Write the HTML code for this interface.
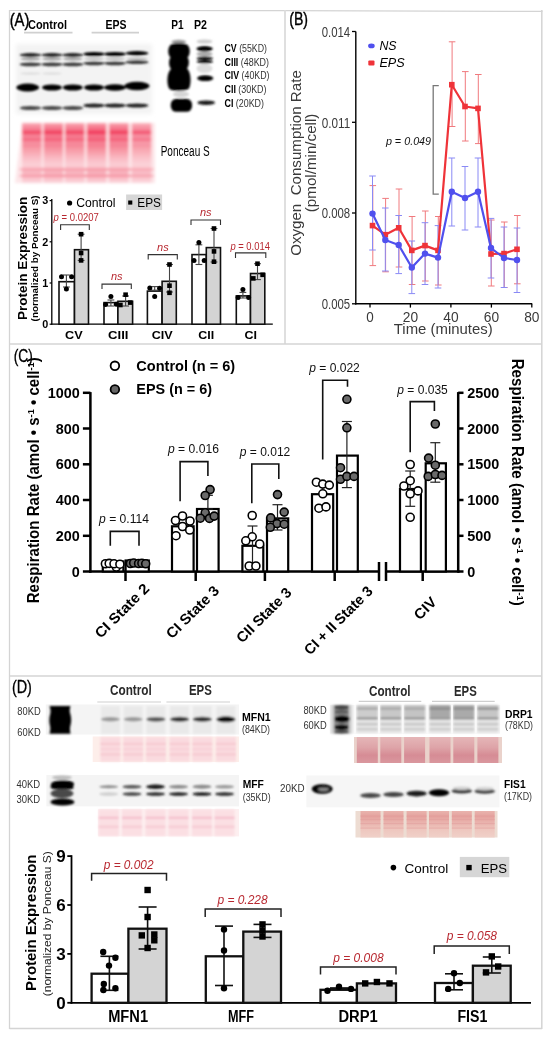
<!DOCTYPE html>
<html><head><meta charset="utf-8"><style>
html,body{margin:0;padding:0;background:#fff;}
body{width:550px;height:1038px;overflow:hidden;}
svg{display:block;font-family:"Liberation Sans", sans-serif;filter:blur(0.4px);}
</style></head><body>
<svg width="550" height="1038" viewBox="0 0 550 1038">
<defs>
<filter id="b05" x="-20%" y="-50%" width="140%" height="200%"><feGaussianBlur stdDeviation="0.5"/></filter>
<filter id="b1" x="-20%" y="-50%" width="140%" height="200%"><feGaussianBlur stdDeviation="0.9"/></filter>
<filter id="b15" x="-20%" y="-50%" width="140%" height="200%"><feGaussianBlur stdDeviation="1.4"/></filter>
<filter id="b2" x="-20%" y="-50%" width="140%" height="200%"><feGaussianBlur stdDeviation="2"/></filter>
</defs>
<rect width="550" height="1038" fill="#fff"/>

<polyline points="9.5,10.5 285,10.6 542.5,11.4" fill="none" stroke="#d4d4d4" stroke-width="1.2"/>
<line x1="9.5" y1="10.0" x2="9.5" y2="1029.0" stroke="#d4d4d4" stroke-width="1.3"/>
<line x1="285.0" y1="10.0" x2="285.0" y2="344.0" stroke="#dcdcdc" stroke-width="1.8"/>
<line x1="541.8" y1="10.0" x2="541.8" y2="1029.0" stroke="#d4d4d4" stroke-width="1.5"/>
<line x1="9.5" y1="344.0" x2="542.0" y2="344.0" stroke="#d4d4d4" stroke-width="1.3"/>
<line x1="9.5" y1="676.0" x2="542.0" y2="676.0" stroke="#d4d4d4" stroke-width="1.3"/>
<line x1="9.5" y1="1028.5" x2="542.0" y2="1028.5" stroke="#d4d4d4" stroke-width="1.3"/>
<text x="9.7" y="25.8" font-size="18.3" textLength="19.7" lengthAdjust="spacingAndGlyphs" stroke="#000" stroke-width="0.4">(A)</text>
<text x="28.0" y="28.5" font-size="13.3" font-weight="bold" textLength="39.0" lengthAdjust="spacingAndGlyphs">Control</text>
<line x1="24.0" y1="32.6" x2="72.5" y2="32.6" stroke="#d0d0d0" stroke-width="1.7"/>
<text x="105.6" y="28.5" font-size="13.3" font-weight="bold" textLength="21.0" lengthAdjust="spacingAndGlyphs">EPS</text>
<line x1="91.6" y1="32.6" x2="139.0" y2="32.6" stroke="#d0d0d0" stroke-width="1.7"/>
<text x="171.3" y="29.0" font-size="13" font-weight="bold" textLength="12.3" lengthAdjust="spacingAndGlyphs">P1</text>
<text x="194.0" y="29.0" font-size="13" font-weight="bold" textLength="13.0" lengthAdjust="spacingAndGlyphs">P2</text>
<g filter="url(#b2)">
<rect x="16.0" y="44.0" width="136.0" height="70.0" fill="#f3f3f3"/>
</g>
<g filter="url(#b1)">
<ellipse cx="30.5" cy="58.8" rx="10.0" ry="1.6" fill="#a0a0a0" opacity="1"/>
<ellipse cx="30.5" cy="55.0" rx="10.8" ry="1.9" fill="#222" opacity="1"/>
<ellipse cx="30.5" cy="64.4" rx="10.8" ry="1.9" fill="#3a3a3a" opacity="1"/>
<ellipse cx="30.5" cy="73.5" rx="10.0" ry="1.0" fill="#dadada" opacity="1"/>
<ellipse cx="27.7" cy="87.5" rx="11.5" ry="4.0" fill="#000" opacity="1"/>
<ellipse cx="30.5" cy="108.0" rx="10.8" ry="2.1" fill="#4a4a4a" opacity="1"/>
<ellipse cx="52.0" cy="58.8" rx="9.8" ry="1.6" fill="#a0a0a0" opacity="1"/>
<ellipse cx="52.0" cy="55.0" rx="10.5" ry="1.9" fill="#222" opacity="1"/>
<ellipse cx="52.0" cy="64.4" rx="10.5" ry="1.9" fill="#3a3a3a" opacity="1"/>
<ellipse cx="52.0" cy="73.5" rx="9.8" ry="1.0" fill="#dadada" opacity="1"/>
<ellipse cx="52.0" cy="87.5" rx="10.0" ry="3.1" fill="#000" opacity="1"/>
<ellipse cx="52.0" cy="108.0" rx="10.5" ry="2.1" fill="#4a4a4a" opacity="1"/>
<ellipse cx="72.8" cy="58.8" rx="9.8" ry="1.6" fill="#a0a0a0" opacity="1"/>
<ellipse cx="72.8" cy="55.0" rx="10.5" ry="1.9" fill="#222" opacity="1"/>
<ellipse cx="72.8" cy="64.4" rx="10.5" ry="1.9" fill="#3a3a3a" opacity="1"/>
<ellipse cx="72.8" cy="87.5" rx="10.0" ry="3.1" fill="#000" opacity="1"/>
<ellipse cx="72.8" cy="108.0" rx="10.5" ry="2.1" fill="#4a4a4a" opacity="1"/>
<ellipse cx="94.0" cy="58.8" rx="10.0" ry="1.6" fill="#c4c4c4" opacity="1"/>
<ellipse cx="94.0" cy="54.1" rx="10.8" ry="2.2" fill="#000" opacity="1"/>
<ellipse cx="94.0" cy="63.3" rx="10.8" ry="1.9" fill="#383838" opacity="1"/>
<ellipse cx="94.0" cy="87.5" rx="10.0" ry="3.1" fill="#000" opacity="1"/>
<ellipse cx="94.0" cy="105.5" rx="10.8" ry="2.1" fill="#222" opacity="1"/>
<ellipse cx="115.0" cy="58.8" rx="10.2" ry="1.6" fill="#c4c4c4" opacity="1"/>
<ellipse cx="115.0" cy="54.1" rx="11.0" ry="2.2" fill="#000" opacity="1"/>
<ellipse cx="115.0" cy="63.3" rx="11.0" ry="1.9" fill="#383838" opacity="1"/>
<ellipse cx="115.0" cy="87.5" rx="11.0" ry="3.3" fill="#000" opacity="1"/>
<ellipse cx="115.0" cy="105.5" rx="11.0" ry="2.1" fill="#222" opacity="1"/>
<ellipse cx="137.0" cy="58.8" rx="10.8" ry="1.6" fill="#c4c4c4" opacity="1"/>
<ellipse cx="137.0" cy="53.2" rx="11.5" ry="2.2" fill="#000" opacity="1"/>
<ellipse cx="137.0" cy="62.2" rx="11.5" ry="1.9" fill="#383838" opacity="1"/>
<ellipse cx="137.0" cy="86.0" rx="12.5" ry="4.2" fill="#000" opacity="1"/>
<ellipse cx="137.0" cy="105.5" rx="11.5" ry="2.1" fill="#222" opacity="1"/>
</g>
<g filter="url(#b1)">
<ellipse cx="178.8" cy="41.8" rx="7.5" ry="2.0" fill="#999"/>
<path d="M170.5,45 C171,42.5 186,42.5 187.5,45 C190.5,48 190.5,54.5 187.5,57.5 C189.5,60 189.5,65 187,68.5 C191.5,72 191.5,86 188.5,89 C185,91.5 172,91.5 169.5,89 C166.5,85 166.5,73 171,69 C168.5,66 168.5,60 170.5,57.5 C167.5,54.5 167.5,48 170.5,45 Z" stroke="#000" stroke-width="0" fill="#000"/>
<ellipse cx="181.0" cy="94.2" rx="8.0" ry="3.0" fill="#d5d5d5"/>
<rect x="170.8" y="98.8" width="21.2" height="13.0" fill="#000" rx="5.5"/>
</g>
<g filter="url(#b1)">
<ellipse cx="204.5" cy="41.5" rx="8.0" ry="2.0" fill="#ccc"/>
<ellipse cx="204.5" cy="54.0" rx="8.0" ry="2.5" fill="#aaa"/>
<ellipse cx="204.5" cy="68.5" rx="8.0" ry="4.5" fill="#ddd"/>
<ellipse cx="204.6" cy="48.8" rx="8.2" ry="2.7" fill="#000" opacity="1"/>
<ellipse cx="204.8" cy="58.3" rx="8.2" ry="1.7" fill="#0a0a0a" opacity="1"/>
<ellipse cx="204.8" cy="61.7" rx="8.2" ry="1.7" fill="#111" opacity="1"/>
<ellipse cx="205.2" cy="78.2" rx="8.2" ry="2.9" fill="#000" opacity="1"/>
<ellipse cx="206.2" cy="102.7" rx="8.8" ry="2.3" fill="#151515" opacity="1"/>
</g>
<text x="224.5" y="52" font-size="10" textLength="42.5" lengthAdjust="spacingAndGlyphs"><tspan font-weight="bold">CV</tspan><tspan fill="#333"> (55KD)</tspan></text>
<text x="224.5" y="65.5" font-size="10" textLength="44.5" lengthAdjust="spacingAndGlyphs"><tspan font-weight="bold">CIII</tspan><tspan fill="#333"> (48KD)</tspan></text>
<text x="224.5" y="79" font-size="10" textLength="45" lengthAdjust="spacingAndGlyphs"><tspan font-weight="bold">CIV</tspan><tspan fill="#333"> (40KD)</tspan></text>
<text x="224.5" y="93" font-size="10" textLength="42" lengthAdjust="spacingAndGlyphs"><tspan font-weight="bold">CII</tspan><tspan fill="#333"> (30KD)</tspan></text>
<text x="224.5" y="107" font-size="10" textLength="39.5" lengthAdjust="spacingAndGlyphs"><tspan font-weight="bold">CI</tspan><tspan fill="#333"> (20KD)</tspan></text>
<defs><linearGradient id="pgA" x1="0" y1="0" x2="0" y2="1">
<stop offset="0" stop-color="#f9a0ac"/><stop offset="0.12" stop-color="#f4607a"/><stop offset="0.3" stop-color="#f57a8e"/>
<stop offset="0.45" stop-color="#f7929f"/><stop offset="0.58" stop-color="#f9b6c0"/><stop offset="0.7" stop-color="#fbcdd4"/>
<stop offset="0.8" stop-color="#f8adb9"/><stop offset="0.9" stop-color="#f9b8c2"/><stop offset="1" stop-color="#fbd2d9"/>
</linearGradient></defs>
<g filter="url(#b15)">
<path d="M22,123 L155,123 L155,183 L15,183 Z" stroke="#000" stroke-width="0" fill="#fde6e9"/>
<rect x="22.1" y="123.0" width="19.5" height="60.0" fill="url(#pgA)" opacity="0.85"/>
<rect x="22.1" y="131.2" width="19.5" height="2.6" fill="#f02a4e" opacity="0.72"/>
<rect x="22.1" y="138.6" width="19.5" height="2.2" fill="#f2405f" opacity="0.51"/>
<rect x="22.1" y="145.0" width="19.5" height="1.5" fill="#f45c78" opacity="0.30"/>
<rect x="19.6" y="168.3" width="24.5" height="2.2" fill="#f58a9a" opacity="0.59"/>
<rect x="19.6" y="174.8" width="24.5" height="2.2" fill="#f47e90" opacity="0.59"/>
<rect x="43.6" y="123.0" width="19.5" height="60.0" fill="url(#pgA)" opacity="0.95"/>
<rect x="43.6" y="131.2" width="19.5" height="2.6" fill="#f02a4e" opacity="0.81"/>
<rect x="43.6" y="138.6" width="19.5" height="2.2" fill="#f2405f" opacity="0.57"/>
<rect x="43.6" y="145.0" width="19.5" height="1.5" fill="#f45c78" opacity="0.33"/>
<rect x="41.1" y="168.3" width="24.5" height="2.2" fill="#f58a9a" opacity="0.66"/>
<rect x="41.1" y="174.8" width="24.5" height="2.2" fill="#f47e90" opacity="0.66"/>
<rect x="65.0" y="123.0" width="19.5" height="60.0" fill="url(#pgA)" opacity="0.9"/>
<rect x="65.0" y="131.2" width="19.5" height="2.6" fill="#f02a4e" opacity="0.77"/>
<rect x="65.0" y="138.6" width="19.5" height="2.2" fill="#f2405f" opacity="0.54"/>
<rect x="65.0" y="145.0" width="19.5" height="1.5" fill="#f45c78" opacity="0.32"/>
<rect x="62.5" y="168.3" width="24.5" height="2.2" fill="#f58a9a" opacity="0.63"/>
<rect x="62.5" y="174.8" width="24.5" height="2.2" fill="#f47e90" opacity="0.63"/>
<rect x="86.8" y="123.0" width="19.5" height="60.0" fill="url(#pgA)" opacity="1.0"/>
<rect x="86.8" y="131.2" width="19.5" height="2.6" fill="#f02a4e" opacity="0.85"/>
<rect x="86.8" y="138.6" width="19.5" height="2.2" fill="#f2405f" opacity="0.60"/>
<rect x="86.8" y="145.0" width="19.5" height="1.5" fill="#f45c78" opacity="0.35"/>
<rect x="84.2" y="168.3" width="24.5" height="2.2" fill="#f58a9a" opacity="0.70"/>
<rect x="84.2" y="174.8" width="24.5" height="2.2" fill="#f47e90" opacity="0.70"/>
<rect x="109.0" y="123.0" width="19.5" height="60.0" fill="url(#pgA)" opacity="0.95"/>
<rect x="109.0" y="131.2" width="19.5" height="2.6" fill="#f02a4e" opacity="0.81"/>
<rect x="109.0" y="138.6" width="19.5" height="2.2" fill="#f2405f" opacity="0.57"/>
<rect x="109.0" y="145.0" width="19.5" height="1.5" fill="#f45c78" opacity="0.33"/>
<rect x="106.5" y="168.3" width="24.5" height="2.2" fill="#f58a9a" opacity="0.66"/>
<rect x="106.5" y="174.8" width="24.5" height="2.2" fill="#f47e90" opacity="0.66"/>
<rect x="131.8" y="123.0" width="19.5" height="60.0" fill="url(#pgA)" opacity="0.75"/>
<rect x="131.8" y="131.2" width="19.5" height="2.6" fill="#f02a4e" opacity="0.64"/>
<rect x="131.8" y="138.6" width="19.5" height="2.2" fill="#f2405f" opacity="0.45"/>
<rect x="131.8" y="145.0" width="19.5" height="1.5" fill="#f45c78" opacity="0.26"/>
<rect x="129.2" y="168.3" width="24.5" height="2.2" fill="#f58a9a" opacity="0.52"/>
<rect x="129.2" y="174.8" width="24.5" height="2.2" fill="#f47e90" opacity="0.52"/>
</g>
<text x="160.7" y="156.0" font-size="13.8" textLength="49.0" lengthAdjust="spacingAndGlyphs">Ponceau S</text>
<line x1="51.8" y1="199.0" x2="51.8" y2="324.8" stroke="#000" stroke-width="1.3"/>
<line x1="51.2" y1="324.2" x2="272.8" y2="324.2" stroke="#000" stroke-width="1.3"/>
<line x1="49.6" y1="324.2" x2="51.8" y2="324.2" stroke="#000" stroke-width="1.2"/>
<text x="48.3" y="328.0" font-size="10.8" font-weight="bold" text-anchor="end">0</text>
<line x1="49.6" y1="283.0" x2="51.8" y2="283.0" stroke="#000" stroke-width="1.2"/>
<text x="48.3" y="286.8" font-size="10.8" font-weight="bold" text-anchor="end">1</text>
<line x1="49.6" y1="241.8" x2="51.8" y2="241.8" stroke="#000" stroke-width="1.2"/>
<text x="48.3" y="245.6" font-size="10.8" font-weight="bold" text-anchor="end">2</text>
<line x1="49.6" y1="200.6" x2="51.8" y2="200.6" stroke="#000" stroke-width="1.2"/>
<text x="48.3" y="204.4" font-size="10.8" font-weight="bold" text-anchor="end">3</text>
<text x="26.8" y="320.0" font-size="13" font-weight="bold" textLength="123.3" lengthAdjust="spacingAndGlyphs" transform="rotate(-90 26.8 320.0)">Protein Expression</text>
<text x="37.6" y="321.4" font-size="9.4" font-weight="bold" textLength="126.0" lengthAdjust="spacingAndGlyphs" transform="rotate(-90 37.6 321.4)">(normalized by Ponceau S)</text>
<circle cx="69.6" cy="203.0" r="2.6" fill="#000"/>
<text x="76.2" y="207.4" font-size="12.2" textLength="39.3" lengthAdjust="spacingAndGlyphs">Control</text>
<rect x="126.1" y="194.5" width="36.0" height="15.5" fill="#d6d6d6"/>
<rect x="128.2" y="200.5" width="4.1" height="4.1" fill="#000"/>
<text x="137.3" y="207.0" font-size="12.2" textLength="23.7" lengthAdjust="spacingAndGlyphs">EPS</text>
<rect x="59.0" y="281.7" width="15.5" height="42.5" fill="#fff" stroke="#111" stroke-width="1.6"/>
<rect x="74.5" y="249.7" width="14.0" height="74.5" fill="#d4d4d4" stroke="#111" stroke-width="1.6"/>
<line x1="66.4" y1="275.0" x2="66.4" y2="287.0" stroke="#444" stroke-width="1.1"/>
<line x1="63.0" y1="275.0" x2="69.8" y2="275.0" stroke="#444" stroke-width="1.1"/>
<line x1="63.0" y1="287.0" x2="69.8" y2="287.0" stroke="#444" stroke-width="1.1"/>
<line x1="81.1" y1="234.2" x2="81.1" y2="260.4" stroke="#444" stroke-width="1.1"/>
<line x1="77.7" y1="234.2" x2="84.5" y2="234.2" stroke="#444" stroke-width="1.1"/>
<line x1="77.7" y1="260.4" x2="84.5" y2="260.4" stroke="#444" stroke-width="1.1"/>
<circle cx="61.5" cy="276.7" r="2.5" fill="#000"/>
<circle cx="71.6" cy="276.7" r="2.5" fill="#000"/>
<circle cx="66.4" cy="289.0" r="2.5" fill="#000"/>
<rect x="78.8" y="231.9" width="4.6" height="4.6" fill="#000"/>
<rect x="78.8" y="250.7" width="4.6" height="4.6" fill="#000"/>
<rect x="78.8" y="258.1" width="4.6" height="4.6" fill="#000"/>
<path d="M60.6,230.1 L60.6,224.7 L89.3,224.7 L89.3,230.1" stroke="#333" stroke-width="1.1" fill="none"/>
<text x="53.6" y="221.4" font-size="10" fill="#b82830" textLength="45.2" lengthAdjust="spacingAndGlyphs"><tspan font-style="italic">p</tspan> = 0.0207</text>
<text x="73.8" y="338.8" font-size="11.8" font-weight="bold" text-anchor="middle" textLength="17.6" lengthAdjust="spacingAndGlyphs">CV</text>
<rect x="104.0" y="302.6" width="13.9" height="21.6" fill="#fff" stroke="#111" stroke-width="1.6"/>
<rect x="117.9" y="301.3" width="14.7" height="22.9" fill="#d4d4d4" stroke="#111" stroke-width="1.6"/>
<line x1="110.9" y1="300.0" x2="110.9" y2="306.0" stroke="#444" stroke-width="1.1"/>
<line x1="107.5" y1="300.0" x2="114.3" y2="300.0" stroke="#444" stroke-width="1.1"/>
<line x1="107.5" y1="306.0" x2="114.3" y2="306.0" stroke="#444" stroke-width="1.1"/>
<line x1="125.6" y1="296.0" x2="125.6" y2="306.0" stroke="#444" stroke-width="1.1"/>
<line x1="122.2" y1="296.0" x2="129.0" y2="296.0" stroke="#444" stroke-width="1.1"/>
<line x1="122.2" y1="306.0" x2="129.0" y2="306.0" stroke="#444" stroke-width="1.1"/>
<circle cx="105.6" cy="304.6" r="2.5" fill="#000"/>
<circle cx="110.9" cy="296.4" r="2.5" fill="#000"/>
<circle cx="116.3" cy="304.2" r="2.5" fill="#000"/>
<rect x="118.1" y="302.7" width="4.6" height="4.6" fill="#000"/>
<rect x="123.3" y="292.4" width="4.6" height="4.6" fill="#000"/>
<rect x="127.9" y="300.3" width="4.6" height="4.6" fill="#000"/>
<path d="M102,289 L102,284.1 L131.3,284.1 L131.3,289" stroke="#333" stroke-width="1.1" fill="none"/>
<text x="116.8" y="280.3" font-size="11" font-style="italic" text-anchor="middle" fill="#b82830">ns</text>
<text x="118.3" y="338.8" font-size="11.8" font-weight="bold" text-anchor="middle" textLength="20.4" lengthAdjust="spacingAndGlyphs">CIII</text>
<rect x="147.4" y="291.1" width="14.7" height="33.1" fill="#fff" stroke="#111" stroke-width="1.6"/>
<rect x="162.1" y="281.3" width="14.2" height="42.9" fill="#d4d4d4" stroke="#111" stroke-width="1.6"/>
<line x1="154.7" y1="286.6" x2="154.7" y2="290.2" stroke="#444" stroke-width="1.1"/>
<line x1="151.3" y1="286.6" x2="158.1" y2="286.6" stroke="#444" stroke-width="1.1"/>
<line x1="151.3" y1="290.2" x2="158.1" y2="290.2" stroke="#444" stroke-width="1.1"/>
<line x1="169.5" y1="264.5" x2="169.5" y2="292.0" stroke="#444" stroke-width="1.1"/>
<line x1="166.1" y1="264.5" x2="172.9" y2="264.5" stroke="#444" stroke-width="1.1"/>
<line x1="166.1" y1="292.0" x2="172.9" y2="292.0" stroke="#444" stroke-width="1.1"/>
<circle cx="149.8" cy="287.9" r="2.5" fill="#000"/>
<circle cx="159.6" cy="288.2" r="2.5" fill="#000"/>
<circle cx="154.7" cy="296.4" r="2.5" fill="#000"/>
<rect x="167.2" y="262.2" width="4.6" height="4.6" fill="#000"/>
<rect x="167.2" y="283.4" width="4.6" height="4.6" fill="#000"/>
<rect x="167.2" y="290.5" width="4.6" height="4.6" fill="#000"/>
<path d="M148.2,259.6 L148.2,254.6 L177.3,254.6 L177.3,259.6" stroke="#333" stroke-width="1.1" fill="none"/>
<text x="162.9" y="250.6" font-size="11" font-style="italic" text-anchor="middle" fill="#b82830">ns</text>
<text x="162.2" y="338.8" font-size="11.8" font-weight="bold" text-anchor="middle" textLength="21.0" lengthAdjust="spacingAndGlyphs">CIV</text>
<rect x="192.0" y="254.6" width="14.3" height="69.6" fill="#fff" stroke="#111" stroke-width="1.6"/>
<rect x="206.3" y="247.6" width="14.2" height="76.6" fill="#d4d4d4" stroke="#111" stroke-width="1.6"/>
<line x1="198.9" y1="244.8" x2="198.9" y2="264.5" stroke="#444" stroke-width="1.1"/>
<line x1="195.5" y1="244.8" x2="202.3" y2="244.8" stroke="#444" stroke-width="1.1"/>
<line x1="195.5" y1="264.5" x2="202.3" y2="264.5" stroke="#444" stroke-width="1.1"/>
<line x1="214.0" y1="228.5" x2="214.0" y2="262.0" stroke="#444" stroke-width="1.1"/>
<line x1="210.6" y1="228.5" x2="217.4" y2="228.5" stroke="#444" stroke-width="1.1"/>
<line x1="210.6" y1="262.0" x2="217.4" y2="262.0" stroke="#444" stroke-width="1.1"/>
<circle cx="198.9" cy="242.4" r="2.5" fill="#000"/>
<circle cx="194.0" cy="260.4" r="2.5" fill="#000"/>
<circle cx="204.2" cy="260.4" r="2.5" fill="#000"/>
<rect x="211.7" y="226.2" width="4.6" height="4.6" fill="#000"/>
<rect x="211.7" y="249.1" width="4.6" height="4.6" fill="#000"/>
<rect x="211.7" y="259.4" width="4.6" height="4.6" fill="#000"/>
<path d="M191,224.9 L191,220 L220.5,220 L220.5,224.9" stroke="#333" stroke-width="1.1" fill="none"/>
<text x="205.8" y="216.2" font-size="11" font-style="italic" text-anchor="middle" fill="#b82830">ns</text>
<text x="206.3" y="338.8" font-size="11.8" font-weight="bold" text-anchor="middle" textLength="15.9" lengthAdjust="spacingAndGlyphs">CII</text>
<rect x="236.3" y="295.9" width="14.2" height="28.3" fill="#fff" stroke="#111" stroke-width="1.6"/>
<rect x="250.5" y="273.5" width="14.3" height="50.7" fill="#d4d4d4" stroke="#111" stroke-width="1.6"/>
<line x1="242.9" y1="292.4" x2="242.9" y2="298.0" stroke="#444" stroke-width="1.1"/>
<line x1="239.5" y1="292.4" x2="246.3" y2="292.4" stroke="#444" stroke-width="1.1"/>
<line x1="239.5" y1="298.0" x2="246.3" y2="298.0" stroke="#444" stroke-width="1.1"/>
<line x1="257.5" y1="263.7" x2="257.5" y2="279.6" stroke="#444" stroke-width="1.1"/>
<line x1="254.1" y1="263.7" x2="260.9" y2="263.7" stroke="#444" stroke-width="1.1"/>
<line x1="254.1" y1="279.6" x2="260.9" y2="279.6" stroke="#444" stroke-width="1.1"/>
<circle cx="242.9" cy="289.4" r="2.5" fill="#000"/>
<circle cx="238.1" cy="297.5" r="2.5" fill="#000"/>
<circle cx="248.6" cy="297.5" r="2.5" fill="#000"/>
<rect x="255.2" y="261.4" width="4.6" height="4.6" fill="#000"/>
<rect x="251.0" y="276.1" width="4.6" height="4.6" fill="#000"/>
<rect x="260.3" y="272.5" width="4.6" height="4.6" fill="#000"/>
<path d="M235.5,258 L235.5,252.9 L265.8,252.9 L265.8,258" stroke="#333" stroke-width="1.1" fill="none"/>
<text x="230.4" y="249.7" font-size="10" fill="#b82830" textLength="39.5" lengthAdjust="spacingAndGlyphs"><tspan font-style="italic">p</tspan> = 0.014</text>
<text x="250.7" y="338.8" font-size="11.8" font-weight="bold" text-anchor="middle" textLength="12.5" lengthAdjust="spacingAndGlyphs">CI</text>
<text x="289.2" y="25.0" font-size="18" textLength="18.8" lengthAdjust="spacingAndGlyphs" stroke="#000" stroke-width="0.4">(B)</text>
<line x1="355.8" y1="31.5" x2="355.8" y2="304.5" stroke="#000" stroke-width="1.4"/>
<line x1="355.1" y1="303.8" x2="532.2" y2="303.8" stroke="#000" stroke-width="1.4"/>
<line x1="352.0" y1="31.5" x2="355.8" y2="31.5" stroke="#000" stroke-width="1.3"/>
<text x="350.2" y="36.8" font-size="14" text-anchor="end" fill="#3a3a3a" textLength="28.5" lengthAdjust="spacingAndGlyphs">0.014</text>
<line x1="352.0" y1="122.3" x2="355.8" y2="122.3" stroke="#000" stroke-width="1.3"/>
<text x="350.2" y="127.6" font-size="14" text-anchor="end" fill="#3a3a3a" textLength="28.5" lengthAdjust="spacingAndGlyphs">0.011</text>
<line x1="352.0" y1="213.0" x2="355.8" y2="213.0" stroke="#000" stroke-width="1.3"/>
<text x="350.2" y="218.3" font-size="14" text-anchor="end" fill="#3a3a3a" textLength="28.5" lengthAdjust="spacingAndGlyphs">0.008</text>
<line x1="352.0" y1="303.8" x2="355.8" y2="303.8" stroke="#000" stroke-width="1.3"/>
<text x="350.2" y="309.1" font-size="14" text-anchor="end" fill="#3a3a3a" textLength="28.5" lengthAdjust="spacingAndGlyphs">0.005</text>
<line x1="370.0" y1="303.8" x2="370.0" y2="307.6" stroke="#000" stroke-width="1.3"/>
<text x="370.0" y="321.8" font-size="14" text-anchor="middle" fill="#3a3a3a" textLength="7.5" lengthAdjust="spacingAndGlyphs">0</text>
<line x1="410.4" y1="303.8" x2="410.4" y2="307.6" stroke="#000" stroke-width="1.3"/>
<text x="410.4" y="321.8" font-size="14" text-anchor="middle" fill="#3a3a3a" textLength="15.3" lengthAdjust="spacingAndGlyphs">20</text>
<line x1="450.9" y1="303.8" x2="450.9" y2="307.6" stroke="#000" stroke-width="1.3"/>
<text x="450.9" y="321.8" font-size="14" text-anchor="middle" fill="#3a3a3a" textLength="15.3" lengthAdjust="spacingAndGlyphs">40</text>
<line x1="491.4" y1="303.8" x2="491.4" y2="307.6" stroke="#000" stroke-width="1.3"/>
<text x="491.4" y="321.8" font-size="14" text-anchor="middle" fill="#3a3a3a" textLength="15.3" lengthAdjust="spacingAndGlyphs">60</text>
<line x1="531.8" y1="303.8" x2="531.8" y2="307.6" stroke="#000" stroke-width="1.3"/>
<text x="531.8" y="321.8" font-size="14" text-anchor="middle" fill="#3a3a3a" textLength="15.3" lengthAdjust="spacingAndGlyphs">80</text>
<text x="393.8" y="334.4" font-size="13.9" fill="#3a3a3a" textLength="98.9" lengthAdjust="spacingAndGlyphs">Time (minutes)</text>
<text x="301.1" y="255.8" font-size="15.2" fill="#3a3a3a" textLength="185.6" lengthAdjust="spacingAndGlyphs" transform="rotate(-90 301.1 255.8)">Oxygen&#160; Consumption Rate</text>
<text x="316.2" y="212.2" font-size="13.8" fill="#3a3a3a" textLength="98.6" lengthAdjust="spacingAndGlyphs" transform="rotate(-90 316.2 212.2)">(pmol/min/cell)</text>
<ellipse cx="371.4" cy="45.9" rx="3.3" ry="2.4" fill="#5050ee"/>
<rect x="368.3" y="60.4" width="6.2" height="5.0" fill="#ef3339" rx="1"/>
<text x="379.4" y="49.7" font-size="12.6" font-style="italic" textLength="17.1" lengthAdjust="spacingAndGlyphs">NS</text>
<text x="379.4" y="67.2" font-size="12.9" font-style="italic" textLength="25.3" lengthAdjust="spacingAndGlyphs">EPS</text>
<line x1="372.8" y1="185.6" x2="372.8" y2="265.6" stroke="#f07a7e" stroke-width="1.0"/>
<line x1="369.5" y1="185.6" x2="376.1" y2="185.6" stroke="#f07a7e" stroke-width="1.0"/>
<line x1="369.5" y1="265.6" x2="376.1" y2="265.6" stroke="#f07a7e" stroke-width="1.0"/>
<line x1="385.6" y1="198.4" x2="385.6" y2="271.8" stroke="#f07a7e" stroke-width="1.0"/>
<line x1="382.3" y1="198.4" x2="388.9" y2="198.4" stroke="#f07a7e" stroke-width="1.0"/>
<line x1="382.3" y1="271.8" x2="388.9" y2="271.8" stroke="#f07a7e" stroke-width="1.0"/>
<line x1="399.0" y1="189.0" x2="399.0" y2="267.0" stroke="#f07a7e" stroke-width="1.0"/>
<line x1="395.7" y1="189.0" x2="402.3" y2="189.0" stroke="#f07a7e" stroke-width="1.0"/>
<line x1="395.7" y1="267.0" x2="402.3" y2="267.0" stroke="#f07a7e" stroke-width="1.0"/>
<line x1="412.1" y1="216.5" x2="412.1" y2="284.5" stroke="#f07a7e" stroke-width="1.0"/>
<line x1="408.8" y1="216.5" x2="415.4" y2="216.5" stroke="#f07a7e" stroke-width="1.0"/>
<line x1="408.8" y1="284.5" x2="415.4" y2="284.5" stroke="#f07a7e" stroke-width="1.0"/>
<line x1="425.3" y1="211.0" x2="425.3" y2="281.0" stroke="#f07a7e" stroke-width="1.0"/>
<line x1="422.0" y1="211.0" x2="428.6" y2="211.0" stroke="#f07a7e" stroke-width="1.0"/>
<line x1="422.0" y1="281.0" x2="428.6" y2="281.0" stroke="#f07a7e" stroke-width="1.0"/>
<line x1="438.3" y1="216.5" x2="438.3" y2="285.0" stroke="#f07a7e" stroke-width="1.0"/>
<line x1="435.0" y1="216.5" x2="441.6" y2="216.5" stroke="#f07a7e" stroke-width="1.0"/>
<line x1="435.0" y1="285.0" x2="441.6" y2="285.0" stroke="#f07a7e" stroke-width="1.0"/>
<line x1="452.1" y1="41.8" x2="452.1" y2="126.5" stroke="#f07a7e" stroke-width="1.0"/>
<line x1="448.8" y1="41.8" x2="455.4" y2="41.8" stroke="#f07a7e" stroke-width="1.0"/>
<line x1="448.8" y1="126.5" x2="455.4" y2="126.5" stroke="#f07a7e" stroke-width="1.0"/>
<line x1="465.3" y1="71.6" x2="465.3" y2="141.0" stroke="#f07a7e" stroke-width="1.0"/>
<line x1="462.0" y1="71.6" x2="468.6" y2="71.6" stroke="#f07a7e" stroke-width="1.0"/>
<line x1="462.0" y1="141.0" x2="468.6" y2="141.0" stroke="#f07a7e" stroke-width="1.0"/>
<line x1="478.3" y1="74.5" x2="478.3" y2="143.6" stroke="#f07a7e" stroke-width="1.0"/>
<line x1="475.0" y1="74.5" x2="481.6" y2="74.5" stroke="#f07a7e" stroke-width="1.0"/>
<line x1="475.0" y1="143.6" x2="481.6" y2="143.6" stroke="#f07a7e" stroke-width="1.0"/>
<line x1="491.3" y1="220.0" x2="491.3" y2="286.0" stroke="#f07a7e" stroke-width="1.0"/>
<line x1="488.0" y1="220.0" x2="494.6" y2="220.0" stroke="#f07a7e" stroke-width="1.0"/>
<line x1="488.0" y1="286.0" x2="494.6" y2="286.0" stroke="#f07a7e" stroke-width="1.0"/>
<line x1="504.3" y1="222.0" x2="504.3" y2="287.5" stroke="#f07a7e" stroke-width="1.0"/>
<line x1="501.0" y1="222.0" x2="507.6" y2="222.0" stroke="#f07a7e" stroke-width="1.0"/>
<line x1="501.0" y1="287.5" x2="507.6" y2="287.5" stroke="#f07a7e" stroke-width="1.0"/>
<line x1="517.3" y1="215.5" x2="517.3" y2="283.8" stroke="#f07a7e" stroke-width="1.0"/>
<line x1="514.0" y1="215.5" x2="520.6" y2="215.5" stroke="#f07a7e" stroke-width="1.0"/>
<line x1="514.0" y1="283.8" x2="520.6" y2="283.8" stroke="#f07a7e" stroke-width="1.0"/>
<line x1="372.5" y1="176.0" x2="372.5" y2="250.0" stroke="#8a8af5" stroke-width="1.0"/>
<line x1="369.2" y1="176.0" x2="375.8" y2="176.0" stroke="#8a8af5" stroke-width="1.0"/>
<line x1="369.2" y1="250.0" x2="375.8" y2="250.0" stroke="#8a8af5" stroke-width="1.0"/>
<line x1="385.3" y1="208.0" x2="385.3" y2="271.0" stroke="#8a8af5" stroke-width="1.0"/>
<line x1="382.0" y1="208.0" x2="388.6" y2="208.0" stroke="#8a8af5" stroke-width="1.0"/>
<line x1="382.0" y1="271.0" x2="388.6" y2="271.0" stroke="#8a8af5" stroke-width="1.0"/>
<line x1="398.7" y1="215.5" x2="398.7" y2="273.6" stroke="#8a8af5" stroke-width="1.0"/>
<line x1="395.4" y1="215.5" x2="402.0" y2="215.5" stroke="#8a8af5" stroke-width="1.0"/>
<line x1="395.4" y1="273.6" x2="402.0" y2="273.6" stroke="#8a8af5" stroke-width="1.0"/>
<line x1="411.8" y1="241.0" x2="411.8" y2="293.6" stroke="#8a8af5" stroke-width="1.0"/>
<line x1="408.5" y1="241.0" x2="415.1" y2="241.0" stroke="#8a8af5" stroke-width="1.0"/>
<line x1="408.5" y1="293.6" x2="415.1" y2="293.6" stroke="#8a8af5" stroke-width="1.0"/>
<line x1="425.0" y1="222.7" x2="425.0" y2="284.5" stroke="#8a8af5" stroke-width="1.0"/>
<line x1="421.7" y1="222.7" x2="428.3" y2="222.7" stroke="#8a8af5" stroke-width="1.0"/>
<line x1="421.7" y1="284.5" x2="428.3" y2="284.5" stroke="#8a8af5" stroke-width="1.0"/>
<line x1="438.0" y1="225.6" x2="438.0" y2="288.0" stroke="#8a8af5" stroke-width="1.0"/>
<line x1="434.7" y1="225.6" x2="441.3" y2="225.6" stroke="#8a8af5" stroke-width="1.0"/>
<line x1="434.7" y1="288.0" x2="441.3" y2="288.0" stroke="#8a8af5" stroke-width="1.0"/>
<line x1="451.8" y1="158.0" x2="451.8" y2="226.0" stroke="#8a8af5" stroke-width="1.0"/>
<line x1="448.5" y1="158.0" x2="455.1" y2="158.0" stroke="#8a8af5" stroke-width="1.0"/>
<line x1="448.5" y1="226.0" x2="455.1" y2="226.0" stroke="#8a8af5" stroke-width="1.0"/>
<line x1="465.0" y1="166.5" x2="465.0" y2="230.0" stroke="#8a8af5" stroke-width="1.0"/>
<line x1="461.7" y1="166.5" x2="468.3" y2="166.5" stroke="#8a8af5" stroke-width="1.0"/>
<line x1="461.7" y1="230.0" x2="468.3" y2="230.0" stroke="#8a8af5" stroke-width="1.0"/>
<line x1="478.0" y1="158.0" x2="478.0" y2="227.0" stroke="#8a8af5" stroke-width="1.0"/>
<line x1="474.7" y1="158.0" x2="481.3" y2="158.0" stroke="#8a8af5" stroke-width="1.0"/>
<line x1="474.7" y1="227.0" x2="481.3" y2="227.0" stroke="#8a8af5" stroke-width="1.0"/>
<line x1="491.0" y1="218.4" x2="491.0" y2="278.0" stroke="#8a8af5" stroke-width="1.0"/>
<line x1="487.7" y1="218.4" x2="494.3" y2="218.4" stroke="#8a8af5" stroke-width="1.0"/>
<line x1="487.7" y1="278.0" x2="494.3" y2="278.0" stroke="#8a8af5" stroke-width="1.0"/>
<line x1="504.0" y1="227.0" x2="504.0" y2="287.5" stroke="#8a8af5" stroke-width="1.0"/>
<line x1="500.7" y1="227.0" x2="507.3" y2="227.0" stroke="#8a8af5" stroke-width="1.0"/>
<line x1="500.7" y1="287.5" x2="507.3" y2="287.5" stroke="#8a8af5" stroke-width="1.0"/>
<line x1="517.0" y1="228.0" x2="517.0" y2="292.5" stroke="#8a8af5" stroke-width="1.0"/>
<line x1="513.7" y1="228.0" x2="520.3" y2="228.0" stroke="#8a8af5" stroke-width="1.0"/>
<line x1="513.7" y1="292.5" x2="520.3" y2="292.5" stroke="#8a8af5" stroke-width="1.0"/>
<polyline points="372.5,225.6 385.3,234.7 398.7,227.8 411.8,250.4 425.0,245.6 438.0,250.4 451.8,84.7 465.0,106.5 478.0,108.4 491.0,254.0 504.0,253.6 517.0,249.3" fill="none" stroke="#ef3339" stroke-width="2.2" stroke-linejoin="round"/>
<rect x="369.7" y="222.8" width="5.6" height="5.6" fill="#ef3339"/>
<rect x="382.5" y="231.9" width="5.6" height="5.6" fill="#ef3339"/>
<rect x="395.9" y="225.0" width="5.6" height="5.6" fill="#ef3339"/>
<rect x="409.0" y="247.6" width="5.6" height="5.6" fill="#ef3339"/>
<rect x="422.2" y="242.8" width="5.6" height="5.6" fill="#ef3339"/>
<rect x="435.2" y="247.6" width="5.6" height="5.6" fill="#ef3339"/>
<rect x="449.0" y="81.9" width="5.6" height="5.6" fill="#ef3339"/>
<rect x="462.2" y="103.7" width="5.6" height="5.6" fill="#ef3339"/>
<rect x="475.2" y="105.6" width="5.6" height="5.6" fill="#ef3339"/>
<rect x="488.2" y="251.2" width="5.6" height="5.6" fill="#ef3339"/>
<rect x="501.2" y="250.8" width="5.6" height="5.6" fill="#ef3339"/>
<rect x="514.2" y="246.5" width="5.6" height="5.6" fill="#ef3339"/>
<polyline points="372.5,213.6 385.3,240.0 398.7,245.0 411.8,267.5 425.0,253.6 438.0,257.6 451.8,191.8 465.0,198.0 478.0,191.8 491.0,248.0 504.0,258.0 517.0,260.0" fill="none" stroke="#5050ee" stroke-width="2.2" stroke-linejoin="round"/>
<circle cx="372.5" cy="213.6" r="3.2" fill="#5050ee"/>
<circle cx="385.3" cy="240.0" r="3.2" fill="#5050ee"/>
<circle cx="398.7" cy="245.0" r="3.2" fill="#5050ee"/>
<circle cx="411.8" cy="267.5" r="3.2" fill="#5050ee"/>
<circle cx="425.0" cy="253.6" r="3.2" fill="#5050ee"/>
<circle cx="438.0" cy="257.6" r="3.2" fill="#5050ee"/>
<circle cx="451.8" cy="191.8" r="3.2" fill="#5050ee"/>
<circle cx="465.0" cy="198.0" r="3.2" fill="#5050ee"/>
<circle cx="478.0" cy="191.8" r="3.2" fill="#5050ee"/>
<circle cx="491.0" cy="248.0" r="3.2" fill="#5050ee"/>
<circle cx="504.0" cy="258.0" r="3.2" fill="#5050ee"/>
<circle cx="517.0" cy="260.0" r="3.2" fill="#5050ee"/>
<path d="M438.8,85.7 L433.2,85.7 L433.2,194.1 L438.8,194.1" stroke="#777" stroke-width="1.3" fill="none"/>
<text x="385.9" y="144.5" font-size="11.8" font-style="italic" fill="#111" textLength="45.2" lengthAdjust="spacingAndGlyphs">p = 0.049</text>
<text x="13.7" y="362.4" font-size="17.8" textLength="19.1" lengthAdjust="spacingAndGlyphs" stroke="#000" stroke-width="0.3">(C)</text>
<line x1="90.4" y1="392.1" x2="90.4" y2="572.7" stroke="#000" stroke-width="2.5"/>
<line x1="458.2" y1="392.1" x2="458.2" y2="572.7" stroke="#000" stroke-width="2.5"/>
<line x1="89.2" y1="571.5" x2="379.0" y2="571.5" stroke="#000" stroke-width="2.5"/>
<line x1="386.0" y1="571.5" x2="459.4" y2="571.5" stroke="#000" stroke-width="2.5"/>
<line x1="379.0" y1="562.0" x2="379.0" y2="581.0" stroke="#000" stroke-width="2.5"/>
<line x1="386.0" y1="562.0" x2="386.0" y2="581.0" stroke="#000" stroke-width="2.5"/>
<line x1="82.9" y1="571.5" x2="90.4" y2="571.5" stroke="#000" stroke-width="2.5"/>
<text x="79.8" y="576.6" font-size="14.4" font-weight="bold" text-anchor="end">0</text>
<line x1="82.9" y1="535.8" x2="90.4" y2="535.8" stroke="#000" stroke-width="2.5"/>
<text x="79.8" y="540.9" font-size="14.4" font-weight="bold" text-anchor="end">200</text>
<line x1="82.9" y1="500.0" x2="90.4" y2="500.0" stroke="#000" stroke-width="2.5"/>
<text x="79.8" y="505.1" font-size="14.4" font-weight="bold" text-anchor="end">400</text>
<line x1="82.9" y1="464.3" x2="90.4" y2="464.3" stroke="#000" stroke-width="2.5"/>
<text x="79.8" y="469.4" font-size="14.4" font-weight="bold" text-anchor="end">600</text>
<line x1="82.9" y1="428.5" x2="90.4" y2="428.5" stroke="#000" stroke-width="2.5"/>
<text x="79.8" y="433.6" font-size="14.4" font-weight="bold" text-anchor="end">800</text>
<line x1="82.9" y1="392.8" x2="90.4" y2="392.8" stroke="#000" stroke-width="2.5"/>
<text x="79.8" y="397.9" font-size="14.4" font-weight="bold" text-anchor="end">1000</text>
<line x1="458.2" y1="571.5" x2="463.5" y2="571.5" stroke="#000" stroke-width="2.5"/>
<text x="467.2" y="576.6" font-size="14.4" font-weight="bold">0</text>
<line x1="458.2" y1="535.8" x2="463.5" y2="535.8" stroke="#000" stroke-width="2.5"/>
<text x="467.2" y="540.9" font-size="14.4" font-weight="bold">500</text>
<line x1="458.2" y1="500.0" x2="463.5" y2="500.0" stroke="#000" stroke-width="2.5"/>
<text x="467.2" y="505.1" font-size="14.4" font-weight="bold">1000</text>
<line x1="458.2" y1="464.3" x2="463.5" y2="464.3" stroke="#000" stroke-width="2.5"/>
<text x="467.2" y="469.4" font-size="14.4" font-weight="bold">1500</text>
<line x1="458.2" y1="428.5" x2="463.5" y2="428.5" stroke="#000" stroke-width="2.5"/>
<text x="467.2" y="433.6" font-size="14.4" font-weight="bold">2000</text>
<line x1="458.2" y1="392.8" x2="463.5" y2="392.8" stroke="#000" stroke-width="2.5"/>
<text x="467.2" y="397.9" font-size="14.4" font-weight="bold">2500</text>
<text x="39.3" y="603.3" font-size="15.6" font-weight="bold" transform="rotate(-90 39.3 603.3)" textLength="246" lengthAdjust="spacingAndGlyphs">Respiration Rate (amol &#8226; s<tspan dy="-5.5" font-size="9.5">-1</tspan><tspan dy="5.5"> &#8226; cell</tspan><tspan dy="-5.5" font-size="9.5">-1</tspan><tspan dy="5.5">)</tspan></text>
<text x="511.6" y="358.7" font-size="15.6" font-weight="bold" transform="rotate(90 511.6 358.7)" textLength="247" lengthAdjust="spacingAndGlyphs">Respiration Rate (amol &#8226; s<tspan dy="-5.5" font-size="9.5">-1</tspan><tspan dy="5.5"> &#8226; cell</tspan><tspan dy="-5.5" font-size="9.5">-1</tspan><tspan dy="5.5">)</tspan></text>
<circle cx="114.9" cy="365.8" r="4.3" fill="#fff" stroke="#000" stroke-width="1.8"/>
<circle cx="114.9" cy="389.4" r="4.3" fill="#666" stroke="#000" stroke-width="1.8"/>
<text x="136.3" y="371.0" font-size="14.6" font-weight="bold" textLength="98.9" lengthAdjust="spacingAndGlyphs">Control (n = 6)</text>
<text x="136.3" y="394.2" font-size="14.6" font-weight="bold" textLength="75.7" lengthAdjust="spacingAndGlyphs">EPS (n = 6)</text>
<rect x="102.8" y="561.5" width="20.6" height="10.0" fill="#fff" stroke="#000" stroke-width="2.2"/>
<rect x="125.6" y="560.5" width="23.2" height="11.0" fill="#fff" stroke="#000" stroke-width="2.2"/>
<line x1="125.5" y1="571.5" x2="125.5" y2="581.0" stroke="#000" stroke-width="2.5"/>
<circle cx="105.4" cy="563.8" r="4.0" fill="#fff" stroke="#000" stroke-width="1.6"/>
<circle cx="109.2" cy="563.4" r="4.0" fill="#fff" stroke="#000" stroke-width="1.6"/>
<circle cx="116.3" cy="567.0" r="4.0" fill="#fff" stroke="#000" stroke-width="1.6"/>
<circle cx="114.0" cy="563.8" r="4.0" fill="#fff" stroke="#000" stroke-width="1.6"/>
<circle cx="119.9" cy="564.2" r="4.0" fill="#fff" stroke="#000" stroke-width="1.6"/>
<circle cx="130.4" cy="563.5" r="4.0" fill="#6a6a6a" stroke="#000" stroke-width="1.6"/>
<circle cx="133.7" cy="563.0" r="4.0" fill="#6a6a6a" stroke="#000" stroke-width="1.6"/>
<circle cx="138.6" cy="563.5" r="4.0" fill="#6a6a6a" stroke="#000" stroke-width="1.6"/>
<circle cx="141.9" cy="563.2" r="4.0" fill="#6a6a6a" stroke="#000" stroke-width="1.6"/>
<circle cx="145.7" cy="563.8" r="4.0" fill="#6a6a6a" stroke="#000" stroke-width="1.6"/>
<path d="M110.3,545.8 L110.3,531.4 L139,531.4 L139,545.8" stroke="#111" stroke-width="1.6" fill="none"/>
<text x="99.1" y="523.1" font-size="12.2" fill="#111" textLength="49.9" lengthAdjust="spacingAndGlyphs"><tspan font-style="italic">p</tspan> = 0.114</text>
<rect x="172.0" y="526.3" width="21.6" height="45.2" fill="#fff" stroke="#000" stroke-width="2.2"/>
<rect x="197.0" y="509.0" width="21.6" height="62.5" fill="#fff" stroke="#000" stroke-width="2.2"/>
<line x1="195.7" y1="571.5" x2="195.7" y2="581.0" stroke="#000" stroke-width="2.5"/>
<line x1="207.9" y1="495.3" x2="207.9" y2="509.0" stroke="#222" stroke-width="1.2"/>
<line x1="202.9" y1="495.3" x2="212.9" y2="495.3" stroke="#222" stroke-width="1.2"/>
<line x1="202.9" y1="509.0" x2="212.9" y2="509.0" stroke="#222" stroke-width="1.2"/>
<circle cx="175.5" cy="520.5" r="4.0" fill="#fff" stroke="#000" stroke-width="1.6"/>
<circle cx="182.5" cy="516.0" r="4.0" fill="#fff" stroke="#000" stroke-width="1.6"/>
<circle cx="190.0" cy="521.0" r="4.0" fill="#fff" stroke="#000" stroke-width="1.6"/>
<circle cx="182.5" cy="526.5" r="4.0" fill="#fff" stroke="#000" stroke-width="1.6"/>
<circle cx="189.7" cy="530.0" r="4.0" fill="#fff" stroke="#000" stroke-width="1.6"/>
<circle cx="176.0" cy="535.7" r="4.0" fill="#fff" stroke="#000" stroke-width="1.6"/>
<circle cx="210.1" cy="489.6" r="4.0" fill="#6a6a6a" stroke="#000" stroke-width="1.6"/>
<circle cx="205.2" cy="495.5" r="4.0" fill="#6a6a6a" stroke="#000" stroke-width="1.6"/>
<circle cx="205.2" cy="512.8" r="4.0" fill="#6a6a6a" stroke="#000" stroke-width="1.6"/>
<circle cx="200.3" cy="518.2" r="4.0" fill="#6a6a6a" stroke="#000" stroke-width="1.6"/>
<circle cx="209.5" cy="518.4" r="4.0" fill="#6a6a6a" stroke="#000" stroke-width="1.6"/>
<circle cx="214.2" cy="516.1" r="4.0" fill="#6a6a6a" stroke="#000" stroke-width="1.6"/>
<path d="M180.1,501.3 L180.1,461.6 L207.9,461.6 L207.9,476.1" stroke="#111" stroke-width="1.6" fill="none"/>
<text x="168" y="453.2" font-size="12.2" fill="#111" textLength="50.9" lengthAdjust="spacingAndGlyphs"><tspan font-style="italic">p</tspan> = 0.016</text>
<rect x="242.4" y="545.8" width="20.9" height="25.7" fill="#fff" stroke="#000" stroke-width="2.2"/>
<rect x="267.0" y="518.4" width="21.2" height="53.1" fill="#fff" stroke="#000" stroke-width="2.2"/>
<line x1="264.9" y1="571.5" x2="264.9" y2="581.0" stroke="#000" stroke-width="2.5"/>
<line x1="252.5" y1="526.0" x2="252.5" y2="566.0" stroke="#222" stroke-width="1.2"/>
<line x1="247.5" y1="526.0" x2="257.5" y2="526.0" stroke="#222" stroke-width="1.2"/>
<line x1="247.5" y1="566.0" x2="257.5" y2="566.0" stroke="#222" stroke-width="1.2"/>
<line x1="277.5" y1="504.7" x2="277.5" y2="530.0" stroke="#222" stroke-width="1.2"/>
<line x1="272.5" y1="504.7" x2="282.5" y2="504.7" stroke="#222" stroke-width="1.2"/>
<line x1="272.5" y1="530.0" x2="282.5" y2="530.0" stroke="#222" stroke-width="1.2"/>
<circle cx="252.2" cy="515.5" r="4.0" fill="#fff" stroke="#000" stroke-width="1.6"/>
<circle cx="252.2" cy="536.8" r="4.0" fill="#fff" stroke="#000" stroke-width="1.6"/>
<circle cx="245.8" cy="540.8" r="4.0" fill="#fff" stroke="#000" stroke-width="1.6"/>
<circle cx="259.7" cy="544.0" r="4.0" fill="#fff" stroke="#000" stroke-width="1.6"/>
<circle cx="249.2" cy="566.0" r="4.0" fill="#fff" stroke="#000" stroke-width="1.6"/>
<circle cx="255.9" cy="566.0" r="4.0" fill="#fff" stroke="#000" stroke-width="1.6"/>
<circle cx="277.5" cy="494.6" r="4.0" fill="#6a6a6a" stroke="#000" stroke-width="1.6"/>
<circle cx="284.2" cy="512.1" r="4.0" fill="#6a6a6a" stroke="#000" stroke-width="1.6"/>
<circle cx="270.7" cy="517.9" r="4.0" fill="#6a6a6a" stroke="#000" stroke-width="1.6"/>
<circle cx="277.0" cy="523.6" r="4.0" fill="#6a6a6a" stroke="#000" stroke-width="1.6"/>
<circle cx="284.2" cy="524.2" r="4.0" fill="#6a6a6a" stroke="#000" stroke-width="1.6"/>
<circle cx="270.3" cy="527.3" r="4.0" fill="#6a6a6a" stroke="#000" stroke-width="1.6"/>
<path d="M251.8,503.3 L251.8,464 L278.8,464 L278.8,479.1" stroke="#111" stroke-width="1.6" fill="none"/>
<text x="239.7" y="456.1" font-size="12.2" fill="#111" textLength="50.6" lengthAdjust="spacingAndGlyphs"><tspan font-style="italic">p</tspan> = 0.012</text>
<rect x="312.0" y="494.2" width="21.2" height="77.3" fill="#fff" stroke="#000" stroke-width="2.2"/>
<rect x="337.0" y="455.6" width="20.8" height="115.9" fill="#fff" stroke="#000" stroke-width="2.2"/>
<line x1="334.7" y1="571.5" x2="334.7" y2="581.0" stroke="#000" stroke-width="2.5"/>
<line x1="346.9" y1="421.5" x2="346.9" y2="487.6" stroke="#222" stroke-width="1.2"/>
<line x1="341.9" y1="421.5" x2="351.9" y2="421.5" stroke="#222" stroke-width="1.2"/>
<line x1="341.9" y1="487.6" x2="351.9" y2="487.6" stroke="#222" stroke-width="1.2"/>
<circle cx="316.4" cy="482.2" r="4.0" fill="#fff" stroke="#000" stroke-width="1.6"/>
<circle cx="322.8" cy="484.1" r="4.0" fill="#fff" stroke="#000" stroke-width="1.6"/>
<circle cx="329.3" cy="485.1" r="4.0" fill="#fff" stroke="#000" stroke-width="1.6"/>
<circle cx="322.8" cy="493.8" r="4.0" fill="#fff" stroke="#000" stroke-width="1.6"/>
<circle cx="318.9" cy="508.2" r="4.0" fill="#fff" stroke="#000" stroke-width="1.6"/>
<circle cx="326.0" cy="506.9" r="4.0" fill="#fff" stroke="#000" stroke-width="1.6"/>
<circle cx="346.9" cy="399.3" r="4.0" fill="#6a6a6a" stroke="#000" stroke-width="1.6"/>
<circle cx="346.9" cy="427.8" r="4.0" fill="#6a6a6a" stroke="#000" stroke-width="1.6"/>
<circle cx="340.5" cy="467.7" r="4.0" fill="#6a6a6a" stroke="#000" stroke-width="1.6"/>
<circle cx="340.5" cy="479.3" r="4.0" fill="#6a6a6a" stroke="#000" stroke-width="1.6"/>
<circle cx="346.9" cy="476.4" r="4.0" fill="#6a6a6a" stroke="#000" stroke-width="1.6"/>
<circle cx="354.0" cy="476.4" r="4.0" fill="#6a6a6a" stroke="#000" stroke-width="1.6"/>
<path d="M322.7,459.4 L322.7,380.3 L347.5,380.3 L347.5,386.7" stroke="#111" stroke-width="1.6" fill="none"/>
<text x="309.2" y="372.4" font-size="12.2" fill="#111" textLength="50.6" lengthAdjust="spacingAndGlyphs"><tspan font-style="italic">p</tspan> = 0.022</text>
<rect x="400.0" y="489.0" width="20.9" height="82.5" fill="#fff" stroke="#000" stroke-width="2.2"/>
<rect x="425.7" y="463.3" width="20.2" height="108.2" fill="#fff" stroke="#000" stroke-width="2.2"/>
<line x1="422.7" y1="571.5" x2="422.7" y2="581.0" stroke="#000" stroke-width="2.5"/>
<line x1="410.2" y1="471.0" x2="410.2" y2="506.3" stroke="#222" stroke-width="1.2"/>
<line x1="405.2" y1="471.0" x2="415.2" y2="471.0" stroke="#222" stroke-width="1.2"/>
<line x1="405.2" y1="506.3" x2="415.2" y2="506.3" stroke="#222" stroke-width="1.2"/>
<line x1="435.3" y1="442.7" x2="435.3" y2="482.2" stroke="#222" stroke-width="1.2"/>
<line x1="430.3" y1="442.7" x2="440.3" y2="442.7" stroke="#222" stroke-width="1.2"/>
<line x1="430.3" y1="482.2" x2="440.3" y2="482.2" stroke="#222" stroke-width="1.2"/>
<circle cx="410.2" cy="464.5" r="4.0" fill="#fff" stroke="#000" stroke-width="1.6"/>
<circle cx="410.2" cy="480.7" r="4.0" fill="#fff" stroke="#000" stroke-width="1.6"/>
<circle cx="403.9" cy="486.0" r="4.0" fill="#fff" stroke="#000" stroke-width="1.6"/>
<circle cx="418.0" cy="490.9" r="4.0" fill="#fff" stroke="#000" stroke-width="1.6"/>
<circle cx="410.2" cy="493.8" r="4.0" fill="#fff" stroke="#000" stroke-width="1.6"/>
<circle cx="410.2" cy="517.3" r="4.0" fill="#fff" stroke="#000" stroke-width="1.6"/>
<circle cx="435.3" cy="424.0" r="4.0" fill="#6a6a6a" stroke="#000" stroke-width="1.6"/>
<circle cx="428.6" cy="458.1" r="4.0" fill="#6a6a6a" stroke="#000" stroke-width="1.6"/>
<circle cx="435.3" cy="465.2" r="4.0" fill="#6a6a6a" stroke="#000" stroke-width="1.6"/>
<circle cx="428.2" cy="476.4" r="4.0" fill="#6a6a6a" stroke="#000" stroke-width="1.6"/>
<circle cx="435.3" cy="474.5" r="4.0" fill="#6a6a6a" stroke="#000" stroke-width="1.6"/>
<circle cx="442.0" cy="475.4" r="4.0" fill="#6a6a6a" stroke="#000" stroke-width="1.6"/>
<path d="M410.2,452.3 L410.2,401.6 L434.4,401.6 L434.4,410.9" stroke="#111" stroke-width="1.6" fill="none"/>
<text x="397.3" y="393.6" font-size="12.2" fill="#111" textLength="50.5" lengthAdjust="spacingAndGlyphs"><tspan font-style="italic">p</tspan> = 0.035</text>
<text x="150.2" y="589.5" font-size="14.6" font-weight="bold" text-anchor="end" transform="rotate(-45 150.2 589.5)" textLength="70" lengthAdjust="spacingAndGlyphs">CI State 2</text>
<text x="220.2" y="591.5" font-size="14.6" font-weight="bold" text-anchor="end" transform="rotate(-45 220.2 591.5)" textLength="68" lengthAdjust="spacingAndGlyphs">CI State 3</text>
<text x="292.5" y="593.5" font-size="14.6" font-weight="bold" text-anchor="end" transform="rotate(-45 292.5 593.5)" textLength="71" lengthAdjust="spacingAndGlyphs">CII State 3</text>
<text x="373.7" y="592" font-size="14.6" font-weight="bold" text-anchor="end" transform="rotate(-45 373.7 592)" textLength="90" lengthAdjust="spacingAndGlyphs">CI + II State 3</text>
<text x="437.5" y="603" font-size="14.6" font-weight="bold" text-anchor="end" transform="rotate(-45 437.5 603)" textLength="25" lengthAdjust="spacingAndGlyphs">CIV</text>
<text x="11.9" y="692.5" font-size="18.5" textLength="20.0" lengthAdjust="spacingAndGlyphs" stroke="#000" stroke-width="0.3">(D)</text>
<text x="110.0" y="694.8" font-size="14" font-weight="bold" fill="#2a2a2a" textLength="41.8" lengthAdjust="spacingAndGlyphs">Control</text>
<line x1="97.3" y1="702.0" x2="161.0" y2="702.0" stroke="#cfcfcf" stroke-width="1.1"/>
<text x="189.0" y="694.8" font-size="14" font-weight="bold" fill="#2a2a2a" textLength="22.8" lengthAdjust="spacingAndGlyphs">EPS</text>
<line x1="166.4" y1="702.0" x2="230.0" y2="702.0" stroke="#cfcfcf" stroke-width="1.1"/>
<text x="369.0" y="695.8" font-size="14" font-weight="bold" fill="#2a2a2a" textLength="41.5" lengthAdjust="spacingAndGlyphs">Control</text>
<line x1="358.7" y1="701.4" x2="421.3" y2="701.4" stroke="#cfcfcf" stroke-width="1.1"/>
<text x="454.0" y="695.8" font-size="14" font-weight="bold" fill="#2a2a2a" textLength="22.7" lengthAdjust="spacingAndGlyphs">EPS</text>
<line x1="432.0" y1="701.4" x2="494.7" y2="701.4" stroke="#cfcfcf" stroke-width="1.1"/>
<text x="17.3" y="715.2" font-size="11" fill="#333" textLength="23.4" lengthAdjust="spacingAndGlyphs">80KD</text>
<text x="17.3" y="735.8" font-size="11" fill="#333" textLength="23.4" lengthAdjust="spacingAndGlyphs">60KD</text>
<text x="16.5" y="788.0" font-size="11" fill="#333" textLength="23.7" lengthAdjust="spacingAndGlyphs">40KD</text>
<text x="16.5" y="803.3" font-size="11" fill="#333" textLength="23.7" lengthAdjust="spacingAndGlyphs">30KD</text>
<text x="303.4" y="714.0" font-size="11" fill="#333" textLength="23.3" lengthAdjust="spacingAndGlyphs">80KD</text>
<text x="303.4" y="729.0" font-size="11" fill="#333" textLength="23.3" lengthAdjust="spacingAndGlyphs">60KD</text>
<text x="280.0" y="792.0" font-size="11" fill="#333" textLength="24.6" lengthAdjust="spacingAndGlyphs">20KD</text>
<text x="242.0" y="721.3" font-size="11.5" font-weight="bold" textLength="28.7" lengthAdjust="spacingAndGlyphs">MFN1</text>
<text x="242.0" y="732.6" font-size="10" fill="#333" textLength="28.0" lengthAdjust="spacingAndGlyphs">(84KD)</text>
<text x="242.7" y="788.0" font-size="11.5" font-weight="bold" textLength="21.1" lengthAdjust="spacingAndGlyphs">MFF</text>
<text x="242.7" y="800.8" font-size="10" fill="#333" textLength="28.0" lengthAdjust="spacingAndGlyphs">(35KD)</text>
<text x="505.0" y="717.6" font-size="11.5" font-weight="bold" textLength="27.5" lengthAdjust="spacingAndGlyphs">DRP1</text>
<text x="505.0" y="729.0" font-size="10" fill="#333" textLength="28.0" lengthAdjust="spacingAndGlyphs">(78KD)</text>
<text x="504.0" y="788.3" font-size="11.5" font-weight="bold" textLength="21.6" lengthAdjust="spacingAndGlyphs">FIS1</text>
<text x="504.0" y="800.3" font-size="10" fill="#333" textLength="28.0" lengthAdjust="spacingAndGlyphs">(17KD)</text>
<rect x="45.8" y="704.5" width="193.2" height="30.0" fill="#f4f4f4"/>
<g filter="url(#b1)">
<path d="M49.5,706 L70.5,706 C69.5,709 69.5,712 70.3,714 C71.5,718 71.5,722 70.3,726 C69.7,728 70,731 70.5,733.8 L49.5,733.8 C50.3,731 50.6,728 50,726 C49,722 49,718 50.2,714 C50.8,712 50.6,709 49.5,706 Z" stroke="#000" stroke-width="0" fill="#000"/>
<rect x="100.9" y="706.0" width="19.0" height="28.0" fill="#e9e9e9"/>
<rect x="123.7" y="706.0" width="19.0" height="28.0" fill="#e9e9e9"/>
<rect x="146.4" y="706.0" width="19.0" height="28.0" fill="#e9e9e9"/>
<rect x="170.1" y="706.0" width="19.0" height="28.0" fill="#e9e9e9"/>
<rect x="192.8" y="706.0" width="19.0" height="28.0" fill="#e9e9e9"/>
<rect x="216.4" y="706.0" width="19.0" height="28.0" fill="#e9e9e9"/>
<ellipse cx="110.4" cy="719.3" rx="9.5" ry="2.2" fill="#9a9a9a"/>
<ellipse cx="133.2" cy="719.3" rx="9.5" ry="2.2" fill="#999"/>
<ellipse cx="155.9" cy="719.3" rx="9.5" ry="2.4" fill="#5a5a5a"/>
<ellipse cx="179.6" cy="719.3" rx="9.5" ry="2.5" fill="#333"/>
<ellipse cx="202.3" cy="719.3" rx="9.5" ry="2.5" fill="#333"/>
<ellipse cx="225.9" cy="719.3" rx="9.5" ry="3.0" fill="#0a0a0a"/>
</g>
<rect x="92.7" y="736.5" width="146.3" height="25.5" fill="#fdeeea"/>
<g filter="url(#b1)">
<rect x="100.4" y="737.0" width="20.0" height="24.5" fill="#fadadf"/>
<rect x="100.4" y="743.0" width="20.0" height="1.8" fill="#f6c6ce"/>
<rect x="100.4" y="748.5" width="20.0" height="1.5" fill="#f7ccd3"/>
<rect x="100.4" y="753.5" width="20.0" height="1.8" fill="#f6c6ce"/>
<rect x="123.2" y="737.0" width="20.0" height="24.5" fill="#fadadf"/>
<rect x="123.2" y="743.0" width="20.0" height="1.8" fill="#f6c6ce"/>
<rect x="123.2" y="748.5" width="20.0" height="1.5" fill="#f7ccd3"/>
<rect x="123.2" y="753.5" width="20.0" height="1.8" fill="#f6c6ce"/>
<rect x="145.9" y="737.0" width="20.0" height="24.5" fill="#fadadf"/>
<rect x="145.9" y="743.0" width="20.0" height="1.8" fill="#f6c6ce"/>
<rect x="145.9" y="748.5" width="20.0" height="1.5" fill="#f7ccd3"/>
<rect x="145.9" y="753.5" width="20.0" height="1.8" fill="#f6c6ce"/>
<rect x="169.6" y="737.0" width="20.0" height="24.5" fill="#fadadf"/>
<rect x="169.6" y="743.0" width="20.0" height="1.8" fill="#f6c6ce"/>
<rect x="169.6" y="748.5" width="20.0" height="1.5" fill="#f7ccd3"/>
<rect x="169.6" y="753.5" width="20.0" height="1.8" fill="#f6c6ce"/>
<rect x="192.3" y="737.0" width="20.0" height="24.5" fill="#fadadf"/>
<rect x="192.3" y="743.0" width="20.0" height="1.8" fill="#f6c6ce"/>
<rect x="192.3" y="748.5" width="20.0" height="1.5" fill="#f7ccd3"/>
<rect x="192.3" y="753.5" width="20.0" height="1.8" fill="#f6c6ce"/>
<rect x="215.9" y="737.0" width="20.0" height="24.5" fill="#fadadf"/>
<rect x="215.9" y="743.0" width="20.0" height="1.8" fill="#f6c6ce"/>
<rect x="215.9" y="748.5" width="20.0" height="1.5" fill="#f7ccd3"/>
<rect x="215.9" y="753.5" width="20.0" height="1.8" fill="#f6c6ce"/>
</g>
<rect x="46.4" y="775.0" width="192.6" height="31.4" fill="#f4f4f4"/>
<g filter="url(#b1)">
<ellipse cx="62.0" cy="777.5" rx="10.0" ry="2.0" fill="#bbb"/>
<path d="M51,784.5 C51,779 74,779 74,784 C74,786 72,787 74,788 C73,790 52,790 51,788 C50,787 51,786 51,784.5 Z" stroke="#000" stroke-width="0" fill="#000"/>
<ellipse cx="62.0" cy="793.5" rx="11.5" ry="4.6" fill="#4a4a4a"/>
<ellipse cx="62.5" cy="802.0" rx="12.0" ry="3.6" fill="#000"/>
<ellipse cx="108.7" cy="786.7" rx="9.5" ry="1.5" fill="#8a8a8a"/>
<ellipse cx="108.7" cy="794.0" rx="9.5" ry="1.7" fill="#cfcfcf"/>
<ellipse cx="132.0" cy="786.7" rx="9.5" ry="1.8" fill="#555"/>
<ellipse cx="132.0" cy="794.0" rx="9.5" ry="1.7" fill="#444"/>
<ellipse cx="155.5" cy="786.7" rx="9.5" ry="2.2" fill="#1a1a1a"/>
<ellipse cx="155.5" cy="794.0" rx="9.5" ry="1.7" fill="#2a2a2a"/>
<ellipse cx="178.5" cy="786.7" rx="9.5" ry="1.8" fill="#888"/>
<ellipse cx="178.5" cy="794.0" rx="9.5" ry="1.7" fill="#222"/>
<ellipse cx="202.0" cy="786.7" rx="9.5" ry="2.0" fill="#8a8a8a"/>
<ellipse cx="202.0" cy="794.0" rx="9.5" ry="1.7" fill="#1a1a1a"/>
<ellipse cx="224.5" cy="786.7" rx="9.5" ry="1.8" fill="#999"/>
<ellipse cx="224.5" cy="794.0" rx="9.5" ry="1.7" fill="#2a2a2a"/>
</g>
<rect x="98.2" y="809.0" width="140.8" height="27.4" fill="#fdeff0"/>
<g filter="url(#b1)">
<rect x="98.7" y="809.5" width="20.0" height="26.5" fill="#fbdfe3"/>
<rect x="98.7" y="816.8" width="20.0" height="2.0" fill="#f4bccb"/>
<rect x="98.7" y="825.8" width="20.0" height="2.0" fill="#f6c8d2"/>
<rect x="122.0" y="809.5" width="20.0" height="26.5" fill="#fbdfe3"/>
<rect x="122.0" y="816.8" width="20.0" height="2.0" fill="#f4bccb"/>
<rect x="122.0" y="825.8" width="20.0" height="2.0" fill="#f6c8d2"/>
<rect x="145.5" y="809.5" width="20.0" height="26.5" fill="#fbdfe3"/>
<rect x="145.5" y="816.8" width="20.0" height="2.0" fill="#f4bccb"/>
<rect x="145.5" y="825.8" width="20.0" height="2.0" fill="#f6c8d2"/>
<rect x="168.5" y="809.5" width="20.0" height="26.5" fill="#fbdfe3"/>
<rect x="168.5" y="816.8" width="20.0" height="2.0" fill="#f4bccb"/>
<rect x="168.5" y="825.8" width="20.0" height="2.0" fill="#f6c8d2"/>
<rect x="192.0" y="809.5" width="20.0" height="26.5" fill="#fbdfe3"/>
<rect x="192.0" y="816.8" width="20.0" height="2.0" fill="#f4bccb"/>
<rect x="192.0" y="825.8" width="20.0" height="2.0" fill="#f6c8d2"/>
<rect x="214.5" y="809.5" width="20.0" height="26.5" fill="#fbdfe3"/>
<rect x="214.5" y="816.8" width="20.0" height="2.0" fill="#f4bccb"/>
<rect x="214.5" y="825.8" width="20.0" height="2.0" fill="#f6c8d2"/>
</g>
<rect x="330.0" y="705.0" width="170.0" height="28.6" fill="#f4f4f4"/>
<g filter="url(#b1)">
<rect x="331.0" y="705.0" width="21.0" height="28.6" fill="#d0d0d0"/>
<rect x="334.0" y="705.0" width="15.0" height="28.6" fill="#8a8a8a"/>
<ellipse cx="341.5" cy="707.5" rx="7.5" ry="2.2" fill="#444"/>
<ellipse cx="341.5" cy="712.0" rx="7.0" ry="1.6" fill="#555"/>
<ellipse cx="342.0" cy="719.0" rx="8.0" ry="3.4" fill="#000"/>
<ellipse cx="341.5" cy="727.3" rx="7.5" ry="2.8" fill="#080808"/>
<ellipse cx="341.5" cy="731.8" rx="7.0" ry="1.6" fill="#444"/>
<rect x="356.8" y="705.0" width="21.0" height="12.0" fill="#cdcdcd"/>
<rect x="356.8" y="707.5" width="21.0" height="2.2" fill="#a5a5a5"/>
<rect x="356.8" y="717.3" width="21.0" height="2.2" fill="#858585"/>
<rect x="356.8" y="720.0" width="21.0" height="13.0" fill="#e4e4e4"/>
<rect x="356.8" y="723.5" width="21.0" height="1.5" fill="#b5b5b5"/>
<rect x="356.8" y="728.5" width="21.0" height="1.5" fill="#bdbdbd"/>
<rect x="380.3" y="705.0" width="21.0" height="12.0" fill="#c8c8c8"/>
<rect x="380.3" y="707.5" width="21.0" height="2.2" fill="#a5a5a5"/>
<rect x="380.3" y="717.3" width="21.0" height="2.2" fill="#858585"/>
<rect x="380.3" y="720.0" width="21.0" height="13.0" fill="#e4e4e4"/>
<rect x="380.3" y="723.5" width="21.0" height="1.5" fill="#b5b5b5"/>
<rect x="380.3" y="728.5" width="21.0" height="1.5" fill="#bdbdbd"/>
<rect x="404.1" y="705.0" width="21.0" height="12.0" fill="#c4c4c4"/>
<rect x="404.1" y="707.5" width="21.0" height="2.2" fill="#a5a5a5"/>
<rect x="404.1" y="717.3" width="21.0" height="2.2" fill="#858585"/>
<rect x="404.1" y="720.0" width="21.0" height="13.0" fill="#e4e4e4"/>
<rect x="404.1" y="723.5" width="21.0" height="1.5" fill="#b5b5b5"/>
<rect x="404.1" y="728.5" width="21.0" height="1.5" fill="#bdbdbd"/>
<rect x="429.5" y="705.0" width="21.0" height="12.0" fill="#a8a8a8"/>
<rect x="429.5" y="707.5" width="21.0" height="2.2" fill="#8a8a8a"/>
<rect x="429.5" y="717.3" width="21.0" height="2.2" fill="#858585"/>
<rect x="429.5" y="720.0" width="21.0" height="13.0" fill="#e4e4e4"/>
<rect x="429.5" y="723.5" width="21.0" height="1.5" fill="#b5b5b5"/>
<rect x="429.5" y="728.5" width="21.0" height="1.5" fill="#bdbdbd"/>
<rect x="453.3" y="705.0" width="21.0" height="12.0" fill="#aaaaaa"/>
<rect x="453.3" y="707.5" width="21.0" height="2.2" fill="#8a8a8a"/>
<rect x="453.3" y="717.3" width="21.0" height="2.2" fill="#858585"/>
<rect x="453.3" y="720.0" width="21.0" height="13.0" fill="#e4e4e4"/>
<rect x="453.3" y="723.5" width="21.0" height="1.5" fill="#b5b5b5"/>
<rect x="453.3" y="728.5" width="21.0" height="1.5" fill="#bdbdbd"/>
<rect x="477.4" y="705.0" width="21.0" height="12.0" fill="#c6c6c6"/>
<rect x="477.4" y="707.5" width="21.0" height="2.2" fill="#8a8a8a"/>
<rect x="477.4" y="717.3" width="21.0" height="2.2" fill="#858585"/>
<rect x="477.4" y="720.0" width="21.0" height="13.0" fill="#e4e4e4"/>
<rect x="477.4" y="723.5" width="21.0" height="1.5" fill="#b5b5b5"/>
<rect x="477.4" y="728.5" width="21.0" height="1.5" fill="#bdbdbd"/>
</g>
<rect x="354.0" y="705.0" width="2.0" height="28.6" fill="#fafafa" opacity="0.9"/>
<rect x="378.1" y="705.0" width="2.0" height="28.6" fill="#fafafa" opacity="0.9"/>
<rect x="401.7" y="705.0" width="2.0" height="28.6" fill="#fafafa" opacity="0.9"/>
<rect x="426.4" y="705.0" width="2.0" height="28.6" fill="#fafafa" opacity="0.9"/>
<rect x="451.0" y="705.0" width="2.0" height="28.6" fill="#fafafa" opacity="0.9"/>
<rect x="474.8" y="705.0" width="2.0" height="28.6" fill="#fafafa" opacity="0.9"/>
<defs><linearGradient id="pgR" x1="0" y1="0" x2="0" y2="1">
<stop offset="0" stop-color="#e5b6b8"/><stop offset="0.4" stop-color="#dea4a8"/><stop offset="0.7" stop-color="#d68c95"/><stop offset="1" stop-color="#da979e"/>
</linearGradient>
<linearGradient id="pgF" x1="0" y1="0" x2="0" y2="1">
<stop offset="0" stop-color="#e9b4ae"/><stop offset="0.2" stop-color="#e5a29e"/><stop offset="0.45" stop-color="#eab4ae"/><stop offset="0.7" stop-color="#eec6be"/><stop offset="1" stop-color="#f0d1c9"/>
</linearGradient></defs>
<rect x="354.0" y="737.0" width="148.0" height="26.0" fill="#ead2cb"/>
<g filter="url(#b05)">
<rect x="356.8" y="737.0" width="21.0" height="26.0" fill="url(#pgR)"/>
<rect x="380.3" y="737.0" width="21.0" height="26.0" fill="url(#pgR)"/>
<rect x="404.1" y="737.0" width="21.0" height="26.0" fill="url(#pgR)"/>
<rect x="429.5" y="737.0" width="21.0" height="26.0" fill="url(#pgR)"/>
<rect x="453.3" y="737.0" width="21.0" height="26.0" fill="url(#pgR)"/>
<rect x="477.4" y="737.0" width="21.0" height="26.0" fill="url(#pgR)"/>
</g>
<rect x="306.4" y="775.5" width="193.0" height="31.8" fill="#f6f6f6"/>
<g filter="url(#b1)">
<ellipse cx="322.2" cy="789.0" rx="10.5" ry="4.8" fill="#000"/>
<ellipse cx="323.5" cy="789.3" rx="5.5" ry="1.8" fill="#888"/>
<ellipse cx="370.5" cy="795.5" rx="10.3" ry="2.5" fill="#4a4a4a"/>
<ellipse cx="393.5" cy="794.5" rx="10.3" ry="2.5" fill="#444"/>
<ellipse cx="416.6" cy="793.6" rx="10.3" ry="2.8" fill="#1e1e1e"/>
<ellipse cx="439.0" cy="792.7" rx="10.3" ry="3.5" fill="#000"/>
<ellipse cx="461.8" cy="791.0" rx="10.3" ry="2.5" fill="#383838"/>
<ellipse cx="484.7" cy="791.3" rx="10.3" ry="2.5" fill="#404040"/>
<ellipse cx="461.8" cy="788.3" rx="9.0" ry="1.8" fill="#d0d0d0"/>
<ellipse cx="484.7" cy="788.6" rx="9.0" ry="1.8" fill="#d5d5d5"/>
</g>
<rect x="355.5" y="811.0" width="142.0" height="26.5" fill="#eddcd2"/>
<g filter="url(#b05)">
<rect x="360.5" y="811.0" width="20.0" height="26.5" fill="url(#pgF)"/>
<rect x="360.5" y="815.5" width="20.0" height="1.2" fill="#e09a98" opacity="0.45"/>
<rect x="360.5" y="819.0" width="20.0" height="1.2" fill="#e09a98" opacity="0.45"/>
<rect x="360.5" y="823.0" width="20.0" height="1.2" fill="#e09a98" opacity="0.45"/>
<rect x="360.5" y="827.5" width="20.0" height="1.2" fill="#e09a98" opacity="0.45"/>
<rect x="383.5" y="811.0" width="20.0" height="26.5" fill="url(#pgF)"/>
<rect x="383.5" y="815.5" width="20.0" height="1.2" fill="#e09a98" opacity="0.45"/>
<rect x="383.5" y="819.0" width="20.0" height="1.2" fill="#e09a98" opacity="0.45"/>
<rect x="383.5" y="823.0" width="20.0" height="1.2" fill="#e09a98" opacity="0.45"/>
<rect x="383.5" y="827.5" width="20.0" height="1.2" fill="#e09a98" opacity="0.45"/>
<rect x="406.6" y="811.0" width="20.0" height="26.5" fill="url(#pgF)"/>
<rect x="406.6" y="815.5" width="20.0" height="1.2" fill="#e09a98" opacity="0.45"/>
<rect x="406.6" y="819.0" width="20.0" height="1.2" fill="#e09a98" opacity="0.45"/>
<rect x="406.6" y="823.0" width="20.0" height="1.2" fill="#e09a98" opacity="0.45"/>
<rect x="406.6" y="827.5" width="20.0" height="1.2" fill="#e09a98" opacity="0.45"/>
<rect x="429.0" y="811.0" width="20.0" height="26.5" fill="url(#pgF)"/>
<rect x="429.0" y="815.5" width="20.0" height="1.2" fill="#e09a98" opacity="0.45"/>
<rect x="429.0" y="819.0" width="20.0" height="1.2" fill="#e09a98" opacity="0.45"/>
<rect x="429.0" y="823.0" width="20.0" height="1.2" fill="#e09a98" opacity="0.45"/>
<rect x="429.0" y="827.5" width="20.0" height="1.2" fill="#e09a98" opacity="0.45"/>
<rect x="451.8" y="811.0" width="20.0" height="26.5" fill="url(#pgF)"/>
<rect x="451.8" y="815.5" width="20.0" height="1.2" fill="#e09a98" opacity="0.45"/>
<rect x="451.8" y="819.0" width="20.0" height="1.2" fill="#e09a98" opacity="0.45"/>
<rect x="451.8" y="823.0" width="20.0" height="1.2" fill="#e09a98" opacity="0.45"/>
<rect x="451.8" y="827.5" width="20.0" height="1.2" fill="#e09a98" opacity="0.45"/>
<rect x="474.7" y="811.0" width="20.0" height="26.5" fill="url(#pgF)"/>
<rect x="474.7" y="815.5" width="20.0" height="1.2" fill="#e09a98" opacity="0.45"/>
<rect x="474.7" y="819.0" width="20.0" height="1.2" fill="#e09a98" opacity="0.45"/>
<rect x="474.7" y="823.0" width="20.0" height="1.2" fill="#e09a98" opacity="0.45"/>
<rect x="474.7" y="827.5" width="20.0" height="1.2" fill="#e09a98" opacity="0.45"/>
</g>
<line x1="71.5" y1="855.2" x2="71.5" y2="1003.7" stroke="#000" stroke-width="1.8"/>
<line x1="70.6" y1="1002.8" x2="531.0" y2="1002.8" stroke="#000" stroke-width="1.8"/>
<line x1="67.3" y1="1002.8" x2="71.5" y2="1002.8" stroke="#000" stroke-width="1.8"/>
<text x="65.6" y="1008.9" font-size="17" font-weight="bold" text-anchor="end">0</text>
<line x1="67.3" y1="953.9" x2="71.5" y2="953.9" stroke="#000" stroke-width="1.8"/>
<text x="65.6" y="960.0" font-size="17" font-weight="bold" text-anchor="end">3</text>
<line x1="67.3" y1="905.0" x2="71.5" y2="905.0" stroke="#000" stroke-width="1.8"/>
<text x="65.6" y="911.1" font-size="17" font-weight="bold" text-anchor="end">6</text>
<line x1="67.3" y1="856.1" x2="71.5" y2="856.1" stroke="#000" stroke-width="1.8"/>
<text x="65.6" y="862.2" font-size="17" font-weight="bold" text-anchor="end">9</text>
<text x="35.6" y="990.9" font-size="14.8" font-weight="bold" textLength="136.4" lengthAdjust="spacingAndGlyphs" transform="rotate(-90 35.6 990.9)">Protein Expression</text>
<text x="50.7" y="996.3" font-size="11.4" fill="#222" textLength="145.0" lengthAdjust="spacingAndGlyphs" transform="rotate(-90 50.7 996.3)">(normalized by Ponceau S)</text>
<circle cx="393.4" cy="867.6" r="2.8" fill="#000"/>
<text x="404.5" y="872.5" font-size="13.6" textLength="43.7" lengthAdjust="spacingAndGlyphs">Control</text>
<rect x="459.8" y="856.9" width="49.5" height="20.3" fill="#d6d6d6"/>
<rect x="466.3" y="864.9" width="5.4" height="5.4" fill="#000"/>
<text x="480.7" y="872.5" font-size="13.6" textLength="26.3" lengthAdjust="spacingAndGlyphs">EPS</text>
<rect x="91.6" y="973.7" width="36.8" height="29.1" fill="#fff" stroke="#111" stroke-width="2.3"/>
<rect x="128.4" y="928.7" width="38.1" height="74.1" fill="#d4d4d4" stroke="#111" stroke-width="2.3"/>
<line x1="109.4" y1="956.3" x2="109.4" y2="990.3" stroke="#111" stroke-width="1.6"/>
<line x1="100.4" y1="956.3" x2="118.4" y2="956.3" stroke="#111" stroke-width="1.6"/>
<line x1="100.4" y1="990.3" x2="118.4" y2="990.3" stroke="#111" stroke-width="1.6"/>
<line x1="147.6" y1="907.0" x2="147.6" y2="949.0" stroke="#111" stroke-width="1.6"/>
<line x1="138.6" y1="907.0" x2="156.6" y2="907.0" stroke="#111" stroke-width="1.6"/>
<line x1="138.6" y1="949.0" x2="156.6" y2="949.0" stroke="#111" stroke-width="1.6"/>
<circle cx="103.2" cy="952.0" r="3.2" fill="#000"/>
<circle cx="115.4" cy="957.8" r="3.2" fill="#000"/>
<circle cx="109.0" cy="965.6" r="3.2" fill="#000"/>
<circle cx="103.8" cy="984.0" r="3.2" fill="#000"/>
<circle cx="103.4" cy="990.0" r="3.2" fill="#000"/>
<circle cx="115.4" cy="988.3" r="3.2" fill="#000"/>
<rect x="144.4" y="886.8" width="6.4" height="6.4" fill="#000"/>
<rect x="144.4" y="913.8" width="6.4" height="6.4" fill="#000"/>
<rect x="138.6" y="932.2" width="6.4" height="6.4" fill="#000"/>
<rect x="151.1" y="931.3" width="6.4" height="6.4" fill="#000"/>
<rect x="151.1" y="937.1" width="6.4" height="6.4" fill="#000"/>
<rect x="144.4" y="944.8" width="6.4" height="6.4" fill="#000"/>
<path d="M91.6,880.7 L91.6,873.4 L166.5,873.4 L166.5,880.7" stroke="#222" stroke-width="1.5" fill="none"/>
<text x="103.8" y="868.5" font-size="13" font-style="italic" fill="#b82830" textLength="49.7" lengthAdjust="spacingAndGlyphs">p = 0.002</text>
<text x="128.1" y="1022.3" font-size="16" font-weight="bold" text-anchor="middle" textLength="39.9" lengthAdjust="spacingAndGlyphs">MFN1</text>
<rect x="205.8" y="956.3" width="37.5" height="46.5" fill="#fff" stroke="#111" stroke-width="2.3"/>
<rect x="243.3" y="931.6" width="37.7" height="71.2" fill="#d4d4d4" stroke="#111" stroke-width="2.3"/>
<line x1="224.0" y1="926.1" x2="224.0" y2="985.5" stroke="#111" stroke-width="1.6"/>
<line x1="215.0" y1="926.1" x2="233.0" y2="926.1" stroke="#111" stroke-width="1.6"/>
<line x1="215.0" y1="985.5" x2="233.0" y2="985.5" stroke="#111" stroke-width="1.6"/>
<line x1="262.5" y1="924.4" x2="262.5" y2="937.4" stroke="#111" stroke-width="1.6"/>
<line x1="253.5" y1="924.4" x2="271.5" y2="924.4" stroke="#111" stroke-width="1.6"/>
<line x1="253.5" y1="937.4" x2="271.5" y2="937.4" stroke="#111" stroke-width="1.6"/>
<circle cx="224.0" cy="929.4" r="3.2" fill="#000"/>
<circle cx="224.0" cy="950.5" r="3.2" fill="#000"/>
<circle cx="224.0" cy="988.3" r="3.2" fill="#000"/>
<rect x="259.3" y="921.2" width="6.4" height="6.4" fill="#000"/>
<rect x="259.3" y="927.3" width="6.4" height="6.4" fill="#000"/>
<rect x="259.3" y="933.3" width="6.4" height="6.4" fill="#000"/>
<path d="M205.2,917 L205.2,909 L281,909 L281,917" stroke="#222" stroke-width="1.5" fill="none"/>
<text x="217.4" y="904.2" font-size="13" font-style="italic" fill="#b82830" textLength="50.3" lengthAdjust="spacingAndGlyphs">p = 0.228</text>
<text x="241.0" y="1022.3" font-size="16" font-weight="bold" text-anchor="middle" textLength="26.0" lengthAdjust="spacingAndGlyphs">MFF</text>
<rect x="320.5" y="989.8" width="36.4" height="13.0" fill="#fff" stroke="#111" stroke-width="2.3"/>
<rect x="356.9" y="983.4" width="39.1" height="19.4" fill="#d4d4d4" stroke="#111" stroke-width="2.3"/>
<line x1="339.0" y1="988.2" x2="339.0" y2="988.2" stroke="#111" stroke-width="1.6"/>
<line x1="330.0" y1="988.2" x2="348.0" y2="988.2" stroke="#111" stroke-width="1.6"/>
<line x1="330.0" y1="988.2" x2="348.0" y2="988.2" stroke="#111" stroke-width="1.6"/>
<circle cx="327.5" cy="990.7" r="3.2" fill="#000"/>
<circle cx="339.0" cy="986.8" r="3.2" fill="#000"/>
<circle cx="351.0" cy="988.9" r="3.2" fill="#000"/>
<rect x="362.0" y="980.2" width="6.4" height="6.4" fill="#000"/>
<rect x="373.7" y="978.8" width="6.4" height="6.4" fill="#000"/>
<rect x="386.3" y="980.2" width="6.4" height="6.4" fill="#000"/>
<path d="M320.5,974.4 L320.5,967 L396,967 L396,974.4" stroke="#222" stroke-width="1.5" fill="none"/>
<text x="333.3" y="962.3" font-size="13" font-style="italic" fill="#b82830" textLength="50.3" lengthAdjust="spacingAndGlyphs">p = 0.008</text>
<text x="358.1" y="1022.3" font-size="16" font-weight="bold" text-anchor="middle" textLength="39.3" lengthAdjust="spacingAndGlyphs">DRP1</text>
<rect x="435.0" y="983.0" width="37.9" height="19.8" fill="#fff" stroke="#111" stroke-width="2.3"/>
<rect x="472.9" y="965.7" width="37.8" height="37.1" fill="#d4d4d4" stroke="#111" stroke-width="2.3"/>
<line x1="454.0" y1="973.8" x2="454.0" y2="989.8" stroke="#111" stroke-width="1.6"/>
<line x1="445.0" y1="973.8" x2="463.0" y2="973.8" stroke="#111" stroke-width="1.6"/>
<line x1="445.0" y1="989.8" x2="463.0" y2="989.8" stroke="#111" stroke-width="1.6"/>
<line x1="491.8" y1="957.0" x2="491.8" y2="973.0" stroke="#111" stroke-width="1.6"/>
<line x1="482.8" y1="957.0" x2="500.8" y2="957.0" stroke="#111" stroke-width="1.6"/>
<line x1="482.8" y1="973.0" x2="500.8" y2="973.0" stroke="#111" stroke-width="1.6"/>
<circle cx="454.0" cy="973.2" r="3.2" fill="#000"/>
<circle cx="459.8" cy="983.0" r="3.2" fill="#000"/>
<circle cx="448.2" cy="988.9" r="3.2" fill="#000"/>
<rect x="488.6" y="953.2" width="6.4" height="6.4" fill="#000"/>
<rect x="495.0" y="963.3" width="6.4" height="6.4" fill="#000"/>
<rect x="482.8" y="969.2" width="6.4" height="6.4" fill="#000"/>
<path d="M434.2,954 L434.2,946 L509.3,946 L509.3,954" stroke="#222" stroke-width="1.5" fill="none"/>
<text x="446.7" y="939.9" font-size="13" font-style="italic" fill="#b82830" textLength="50.3" lengthAdjust="spacingAndGlyphs">p = 0.058</text>
<text x="472.4" y="1022.3" font-size="16" font-weight="bold" text-anchor="middle" textLength="29.9" lengthAdjust="spacingAndGlyphs">FIS1</text>
</svg></body></html>
